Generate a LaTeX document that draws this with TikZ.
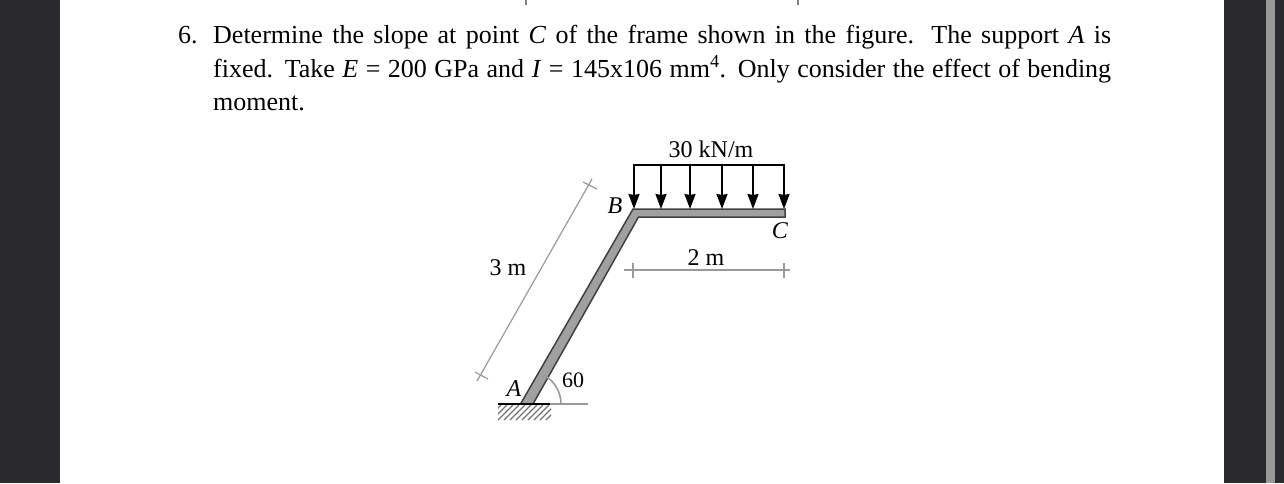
\documentclass[tikz,border=0pt]{standalone}
\usepackage{fontspec}
\setmainfont{Liberation Serif}
\usetikzlibrary{arrows.meta}
\definecolor{sidedark}{HTML}{2A2A2E}
\definecolor{beamgray}{HTML}{A0A0A0}
\definecolor{beamedge}{HTML}{404040}
\definecolor{dimgray}{HTML}{9A9A9A}
\tikzset{
	bodytext/.style={inner sep=0pt, font=\fontsize{26}{33.5}\selectfont},
	figlabel/.style={inner sep=0pt, font=\fontsize{24}{28}\selectfont},
	dimline/.style={dimgray, line width=1.2pt},
	loadline/.style={black, line width=1.8pt},
}
\begin{document}
\begin{tikzpicture}[x=1pt, y=-1pt]
	\useasboundingbox (0,0) rectangle (1284,483);
	
	\fill [sidedark] (0,0) rectangle (60,483);
	\fill [sidedark] (1224,0) rectangle (1284,483);
	\fill [gray!80] (1266,0) rectangle (1275,483);
	\draw [gray, line width=1.5pt] (526,0) -- (526,5);
	\draw [gray, line width=1.5pt] (798,0) -- (798,5);
	
	\node [bodytext, anchor=base west] (num) at (178,43.5) {6.};
	\node [bodytext, anchor=north west, text width=898pt, align=justify] (problem) at (213,25) {Determine the slope at point \textit{C} of the frame shown in the figure. The support \textit{A} is\linebreak fixed. Take \textit{E} = 200 GPa and \textit{I} = 145x106 mm\textsuperscript{4}. Only consider the effect of bending\linebreak moment.};
	
	\coordinate (Aleft) at (520.5,404);
	\coordinate (Aright) at (533,404);
	\coordinate (Bout) at (633,209);
	\coordinate (Bin) at (638.5,217);
	\coordinate (Ctop) at (785,209);
	\coordinate (Cbot) at (785,217);
	
	\draw [beamedge, fill=beamgray, line width=1.5pt] (Aleft) -- (Bout) -- (Ctop) -- (Cbot) -- (Bin) -- (Aright) -- cycle;
	
	\foreach \x in {634,661,690,722,753,784}
		\draw [loadline, -{Stealth[length=15pt, width=11pt, inset=1pt]}] (\x,165) -- (\x,209);
	\draw [loadline] (633.1,165) -- (784.9,165);
	
	\begin{scope}
		\clip (498,405) rectangle (551,420);
		\foreach \x in {0,...,11}
			\draw [black!55, line width=1.1pt] (486+6*\x,420) -- (501+6*\x,405);
	\end{scope}
	\draw [black, line width=2.2pt] (498,404) -- (550,404);
	\draw [dimline] (550,404) -- (588,404);
	\draw [dimgray, line width=1.6pt] (561,404) arc [start angle=0, end angle=-60, radius=33];
	
	\coordinate (Lend) at (477,381);
	\coordinate (Uend) at (592,179);
	\draw [dimline] (Lend) -- (Uend);
	\draw [dimline] (475,372) -- (488,379);
	\draw [dimline] (583,182) -- (597,189);
	
	\coordinate (Dleft) at (624,270);
	\coordinate (Dright) at (790,270);
	\draw [dimline] (Dleft) -- (Dright);
	\draw [dimline] (633,263) -- (633,278);
	\draw [dimline] (784,263) -- (784,278);
	
	\node [figlabel] (load) at (711,149.5) {30 kN/m};
	\node [figlabel] (lblB) at (615,206) {\textit{B}};
	\node [figlabel] (lblC) at (780,231) {\textit{C}};
	\node [figlabel] (span) at (706,258) {2 m};
	\node [figlabel] (leg) at (508,268) {3 m};
	\node [figlabel] (lblA) at (514,389) {\textit{A}};
	\node [figlabel, font=\fontsize{22}{26}\selectfont] (ang) at (573,380) {60};
\end{tikzpicture}
\end{document}
